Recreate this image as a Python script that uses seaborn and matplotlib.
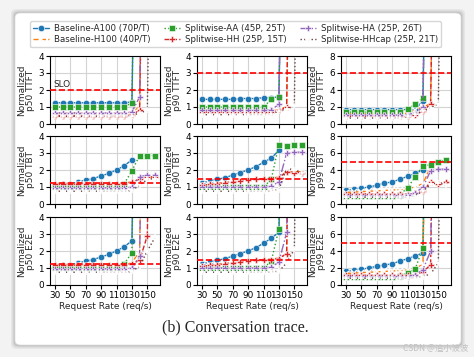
import numpy as np
import matplotlib
matplotlib.use("Agg")
import matplotlib.pyplot as plt
from matplotlib.patches import FancyBboxPatch
import seaborn as sns

nan = np.nan

rate = [30, 40, 50, 60, 70, 80, 90, 100, 110, 120, 130, 140, 150, 160]
xticks = [30, 50, 70, 90, 110, 130, 150]

names = ['Baseline-A100 (70P/T)', 'Baseline-H100 (40P/T)', 'Splitwise-AA (45P, 25T)',
         'Splitwise-HH (25P, 15T)', 'Splitwise-HA (25P, 26T)', 'Splitwise-HHcap (25P, 21T)']
colors = ['#1f77b4', '#ff7f0e', '#2ca02c', '#d62728', '#9467bd', '#6b4242']
styles = ['-', '--', ':', '--', '-.', ':']
markers = ['o', 'x', 's', 'P', 'P', '+']

# values that shoot off the top of the axes are written as 30 / 60
p50_ttft = [
    [1.25, 1.25, 1.25, 1.25, 1.25, 1.25, 1.25, 1.25, 1.25, 1.25, 1.3, 30, nan, nan],
    [0.65, 0.65, 0.65, 0.65, 0.65, 0.65, 0.65, 0.65, 0.65, 0.65, 0.7, 1.0, 30, nan],
    [1.0, 1.0, 1.0, 1.0, 1.0, 1.0, 1.0, 1.0, 1.0, 1.0, 1.25, 30, nan, nan],
    [0.5, 0.5, 0.5, 0.5, 0.5, 0.5, 0.5, 0.5, 0.5, 0.5, 0.55, 0.8, 30, nan],
    [0.65, 0.65, 0.65, 0.65, 0.65, 0.65, 0.65, 0.65, 0.65, 0.65, 0.7, 1.6, 30, nan],
    [0.45, 0.45, 0.45, 0.45, 0.45, 0.45, 0.45, 0.45, 0.45, 0.45, 0.5, 0.65, 0.8, 30],
]
p90_ttft = [
    [1.45, 1.45, 1.45, 1.45, 1.45, 1.5, 1.5, 1.5, 1.55, 1.55, 1.6, 30, nan, nan],
    [0.8, 0.8, 0.8, 0.8, 0.8, 0.8, 0.8, 0.8, 0.8, 0.8, 0.85, 1.0, 30, nan],
    [1.0, 1.0, 1.0, 1.0, 1.0, 1.0, 1.0, 1.0, 1.0, 1.45, 1.6, 30, nan, nan],
    [0.7, 0.7, 0.7, 0.7, 0.7, 0.7, 0.7, 0.7, 0.7, 0.7, 0.8, 1.0, 30, nan],
    [0.8, 0.8, 0.8, 0.8, 0.8, 0.8, 0.8, 0.8, 0.8, 0.85, 1.15, 30, nan, nan],
    [0.55, 0.55, 0.55, 0.55, 0.55, 0.55, 0.55, 0.55, 0.55, 0.6, 0.75, 0.9, 1.05, 30],
]
p99_ttft = [
    [1.7, 1.7, 1.7, 1.7, 1.7, 1.7, 1.7, 1.7, 1.7, 1.75, 2.7, 60, nan, nan],
    [1.2, 1.2, 1.2, 1.2, 1.2, 1.2, 1.2, 1.2, 1.3, 1.6, 2.0, 2.4, 60, nan],
    [1.4, 1.4, 1.4, 1.4, 1.4, 1.4, 1.4, 1.45, 1.8, 2.3, 3.1, 60, nan, nan],
    [0.9, 0.9, 0.9, 0.9, 0.9, 0.9, 0.9, 0.9, 0.9, 1.1, 1.5, 2.4, 60, nan],
    [1.05, 1.05, 1.05, 1.05, 1.05, 1.05, 1.05, 1.05, 1.1, 1.3, 2.0, 60, nan, nan],
    [0.7, 0.7, 0.7, 0.7, 0.7, 0.7, 0.7, 0.7, 0.9, 1.2, 1.5, 1.9, 2.4, 60],
]
p50_tbt = [
    [1.1, 1.2, 1.2, 1.3, 1.4, 1.5, 1.65, 1.8, 2.0, 2.25, 2.6, nan, nan, nan],
    [1.2, 1.2, 1.2, 1.2, 1.2, 1.2, 1.2, 1.2, 1.2, 1.25, 1.3, 1.45, 1.55, 1.55],
    [1.0, 1.0, 1.0, 1.0, 1.0, 1.0, 1.0, 1.0, 1.0, 1.2, 1.95, 2.85, 2.85, 2.85],
    [1.15, 1.15, 1.15, 1.15, 1.15, 1.15, 1.15, 1.15, 1.15, 1.2, 1.3, 1.45, 1.6, 1.6],
    [0.95, 0.95, 0.95, 0.95, 0.95, 0.95, 0.95, 0.95, 0.95, 0.95, 1.0, 1.6, 1.7, 1.7],
    [0.75, 0.75, 0.75, 0.75, 0.75, 0.75, 0.75, 0.75, 0.75, 0.75, 0.8, 1.1, 1.45, 1.5],
]
p90_tbt = [
    [1.25, 1.35, 1.45, 1.55, 1.7, 1.85, 2.0, 2.2, 2.45, 2.7, 3.15, nan, nan, nan],
    [1.1, 1.15, 1.2, 1.25, 1.3, 1.35, 1.4, 1.45, 1.5, 1.5, 1.6, 1.85, 1.9, 1.9],
    [1.0, 1.0, 1.0, 1.0, 1.0, 1.0, 1.0, 1.0, 1.0, 1.45, 3.5, 3.4, 3.45, 3.45],
    [1.1, 1.15, 1.2, 1.25, 1.3, 1.35, 1.4, 1.45, 1.5, 1.5, 1.55, 1.9, 1.85, 1.85],
    [1.0, 1.0, 1.0, 1.0, 1.0, 1.0, 1.0, 1.0, 1.0, 1.05, 1.3, 3.0, 3.05, 3.05],
    [0.75, 0.75, 0.75, 0.75, 0.75, 0.75, 0.75, 0.75, 0.75, 0.8, 0.85, 2.1, 2.0, 1.85],
]
p99_tbt = [
    [1.6, 1.75, 1.85, 2.0, 2.2, 2.45, 2.6, 2.9, 3.25, 3.6, 4.0, nan, nan, nan],
    [1.35, 1.4, 1.45, 1.5, 1.55, 1.6, 1.65, 1.7, 1.75, 2.0, 2.4, 4.4, 4.9, 5.0],
    [1.0, 1.0, 1.0, 1.0, 1.0, 1.0, 1.0, 1.1, 1.9, 3.2, 4.5, 4.6, 4.9, 5.2],
    [1.2, 1.2, 1.2, 1.2, 1.2, 1.2, 1.2, 1.2, 1.2, 1.3, 1.5, 2.6, 2.4, 2.6],
    [1.0, 1.0, 1.0, 1.0, 1.0, 1.0, 1.0, 1.0, 1.05, 1.3, 2.0, 3.9, 4.1, 4.1],
    [0.8, 0.8, 0.8, 0.8, 0.8, 0.8, 0.8, 0.8, 0.8, 1.0, 1.5, 2.3, 2.5, 2.2],
]
p50_e2e = [
    [1.1, 1.15, 1.2, 1.3, 1.4, 1.5, 1.65, 1.8, 2.0, 2.25, 2.6, 30, nan, nan],
    [1.2, 1.2, 1.2, 1.2, 1.2, 1.2, 1.2, 1.2, 1.2, 1.2, 1.3, 2.0, 30, nan],
    [1.0, 1.0, 1.0, 1.0, 1.0, 1.0, 1.0, 1.0, 1.0, 1.25, 1.9, 30, nan, nan],
    [1.15, 1.15, 1.15, 1.15, 1.15, 1.15, 1.15, 1.15, 1.15, 1.2, 1.25, 1.45, 2.9, 30],
    [0.95, 0.95, 0.95, 0.95, 0.95, 0.95, 0.95, 0.95, 0.95, 0.95, 1.0, 1.7, 30, nan],
    [0.75, 0.75, 0.75, 0.75, 0.75, 0.75, 0.75, 0.75, 0.75, 0.75, 0.8, 1.1, 2.0, 2.8],
]
p90_e2e = [
    [1.25, 1.35, 1.45, 1.55, 1.7, 1.85, 2.0, 2.2, 2.45, 2.75, 3.1, 30, nan, nan],
    [1.1, 1.15, 1.2, 1.25, 1.3, 1.35, 1.4, 1.45, 1.5, 1.5, 1.6, 1.8, 30, nan],
    [1.0, 1.0, 1.0, 1.0, 1.0, 1.0, 1.0, 1.0, 1.0, 1.4, 3.3, 30, nan, nan],
    [1.1, 1.15, 1.2, 1.25, 1.3, 1.35, 1.4, 1.45, 1.5, 1.5, 1.55, 1.85, 30, nan],
    [1.0, 1.0, 1.0, 1.0, 1.0, 1.0, 1.0, 1.0, 1.0, 1.05, 1.35, 3.1, 30, nan],
    [0.75, 0.75, 0.75, 0.75, 0.75, 0.75, 0.75, 0.75, 0.75, 0.8, 0.8, 1.3, 2.1, 30],
]
p99_e2e = [
    [1.6, 1.75, 1.85, 2.0, 2.2, 2.35, 2.5, 2.8, 3.1, 3.4, 3.8, 60, nan, nan],
    [1.35, 1.4, 1.45, 1.5, 1.55, 1.6, 1.65, 1.7, 1.75, 2.0, 2.4, 60, nan, nan],
    [1.0, 1.0, 1.0, 1.0, 1.0, 1.0, 1.0, 1.1, 1.4, 1.9, 4.4, 60, nan, nan],
    [1.15, 1.15, 1.15, 1.15, 1.15, 1.15, 1.15, 1.15, 1.15, 1.2, 1.5, 2.4, 60, nan],
    [1.0, 1.0, 1.0, 1.0, 1.0, 1.0, 1.0, 1.0, 1.0, 1.2, 1.8, 4.0, 60, nan],
    [0.8, 0.8, 0.8, 0.8, 0.8, 0.8, 0.8, 0.8, 0.8, 0.85, 1.0, 1.3, 2.6, 60],
]

panels = [
    [(p50_ttft, 'Normalized\np50 TTFT', 4, 2), (p90_ttft, 'Normalized\np90 TTFT', 4, 3), (p99_ttft, 'Normalized\np99 TTFT', 8, 6)],
    [(p50_tbt, 'Normalized\np50 TBT', 4, 1.25), (p90_tbt, 'Normalized\np90 TBT', 4, 1.5), (p99_tbt, 'Normalized\np99 TBT', 8, 5)],
    [(p50_e2e, 'Normalized\np50 E2E', 4, 1.25), (p90_e2e, 'Normalized\np90 E2E', 4, 1.5), (p99_e2e, 'Normalized\np99 E2E', 8, 5)],
]

sns.set_style('whitegrid', {'axes.edgecolor': 'black', 'grid.color': '#d3d3d3',
                            'xtick.bottom': True, 'ytick.left': True})
plt.rcParams['font.family'] = ['DejaVu Sans']

W, H = 474, 357
fig = plt.figure(figsize=(4.74, 3.57), dpi=100, facecolor='#f3f3f3')

# card with soft shadow
for off, a in [(4, 0.05), (2.5, 0.07), (1.2, 0.09)]:
    fig.patches.append(FancyBboxPatch(((15 - off) / W, (12 - off) / H), (446 + 2 * off) / W, (332 + 2 * off) / H,
                                      boxstyle='round,pad=0,rounding_size=0.012', transform=fig.transFigure,
                                      facecolor='black', edgecolor='none', alpha=a, zorder=-3))
fig.patches.append(FancyBboxPatch((15 / W, 12 / H), 446 / W, 332 / H,
                                  boxstyle='round,pad=0,rounding_size=0.012', transform=fig.transFigure,
                                  facecolor='white', edgecolor='#dddddd', lw=0.5, zorder=-2))

lefts = [50, 197, 341]
tops = [56, 136, 217]
aw, ah = 110, 68

for r in range(3):
    for c in range(3):
        vals, ylab, ymax, slo = panels[r][c]
        ax = fig.add_axes([lefts[c] / W, 1 - (tops[r] + ah) / H, aw / W, ah / H])
        for i in range(6):
            sns.lineplot(x=rate, y=vals[i], ax=ax, color=colors[i], linestyle=styles[i],
                         marker=markers[i], markersize=4.6 if i == 0 else 4.2,
                         markeredgewidth=1.1 if markers[i] in 'x+' else 0.4,
                         linewidth=1.0, label=names[i], estimator=None, sort=False)
        ax.axhline(slo, color='red', linestyle='--', linewidth=1.2, zorder=5)
        if ax.get_legend():
            ax.get_legend().remove()
        ax.set_ylim(0, ymax)
        ax.set_xlim(23.5, 166.5)
        ax.set_yticks(np.linspace(0, ymax, 5))
        ax.set_xticks(xticks)
        ax.tick_params(labelsize=6.4, length=3, width=0.8, pad=1.5, colors='black')
        ax.set_ylabel(ylab, fontsize=6.5, labelpad=2, linespacing=1.0)
        for s in ax.spines.values():
            s.set_linewidth(0.8)
        if r == 2:
            ax.set_xlabel('Request Rate (req/s)', fontsize=6.5, labelpad=1.5)
        else:
            ax.set_xticklabels([])
            ax.set_xlabel('')
        if r == 0 and c == 0:
            ax.text(28, slo + 0.08, 'SLO', fontsize=6.4, va='bottom')
            handles, labels = ax.get_legend_handles_labels()

fig.legend(handles, labels, loc='upper center', bbox_to_anchor=(0.497, 1 - 17 / H), ncol=3,
           fontsize=6.2, frameon=True, edgecolor='#cccccc', fancybox=True, handlelength=1.8,
           columnspacing=1.6, borderpad=0.35, labelspacing=0.25, handletextpad=0.6)

fig.text(235 / W, 1 - 327 / H, '(b) Conversation trace.', ha='center', va='center',
         fontsize=11.5, family='Liberation Serif')
fig.text(468 / W, 4 / H, 'CSDN @追小波波', ha='right', va='bottom', fontsize=6,
         color='#c0c0c0', family=['Noto Sans CJK SC', 'DejaVu Sans'])

fig.savefig('out.png', dpi=100, facecolor=fig.get_facecolor())
